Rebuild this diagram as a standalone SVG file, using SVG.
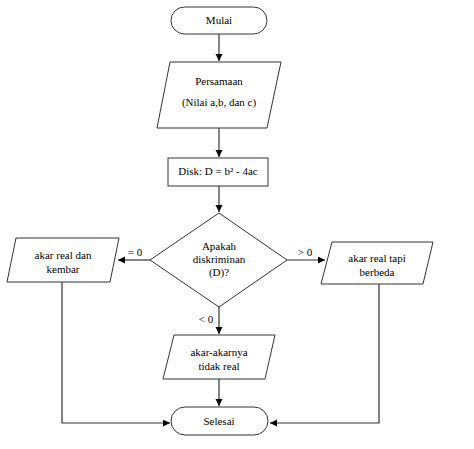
<svg xmlns="http://www.w3.org/2000/svg" width="474" height="449" viewBox="0 0 474 449" font-family="'Liberation Serif', 'Times New Roman', serif" font-size="11">
<defs>
<marker id="ah" markerWidth="8" markerHeight="8" refX="7" refY="3.5" orient="auto" markerUnits="userSpaceOnUse">
<path d="M0,0 L7,3.5 L0,7 Z" fill="#000"/>
</marker>
<style>
.s{fill:#fff;stroke:#333;stroke-width:1}
.c{fill:none;stroke:#333;stroke-width:1.2;marker-end:url(#ah)}
text{fill:#000;text-anchor:middle}
</style>
</defs>
<rect width="474" height="449" fill="#fff"/>
<g id="connectors">
<line class="c" x1="219" y1="34" x2="219" y2="61"/>
<line class="c" x1="219" y1="128" x2="219" y2="157"/>
<line class="c" x1="219" y1="186" x2="219" y2="212"/>
<line class="c" x1="150" y1="260" x2="118" y2="260"/>
<line class="c" x1="287" y1="260" x2="325" y2="260"/>
<line class="c" x1="219" y1="307" x2="219" y2="334"/>
<line class="c" x1="219" y1="379" x2="219" y2="406"/>
<polyline class="c" points="62,282 62,423 170,423"/>
<polyline class="c" points="379,284 379,423 270,423"/>
<text x="135" y="256">= 0</text>
<text x="305" y="256">&gt; 0</text>
<text x="206" y="323">&lt; 0</text>
</g>
<g id="mulai">
<rect class="s" x="171" y="7" width="96" height="27" rx="13.5"/>
<text x="219" y="24">Mulai</text>
</g>
<g id="persamaan">
<polygon class="s" points="170,62 281,62 267,128 157,128"/>
<text x="219" y="85">Persamaan</text>
<text x="219" y="106">(Nilai a,b, dan c)</text>
</g>
<g id="disk">
<rect class="s" x="168" y="158" width="100" height="28"/>
<text x="218" y="175">Disk:  D = b² - 4ac</text>
</g>
<g id="decision">
<polygon class="s" points="219,213 287,260 219,307 150,260"/>
<text x="219" y="250">Apakah</text>
<text x="219" y="263">diskriminan</text>
<text x="219" y="276">(D)?</text>
</g>
<g id="kembar">
<polygon class="s" points="16,238 119,238 110,282 7,282"/>
<text x="63" y="259">akar real  dan</text>
<text x="63" y="273">kembar</text>
</g>
<g id="berbeda">
<polygon class="s" points="332,242 433,242 423,284 321,284"/>
<text x="377" y="262">akar real tapi</text>
<text x="377" y="276">berbeda</text>
</g>
<g id="tidakreal">
<polygon class="s" points="174,335 275,335 265,379 163,379"/>
<text x="219" y="356">akar-akarnya</text>
<text x="219" y="370">tidak real</text>
</g>
<g id="selesai">
<rect class="s" x="171" y="407" width="97" height="28" rx="14"/>
<text x="219" y="425">Selesai</text>
</g>
</svg>
